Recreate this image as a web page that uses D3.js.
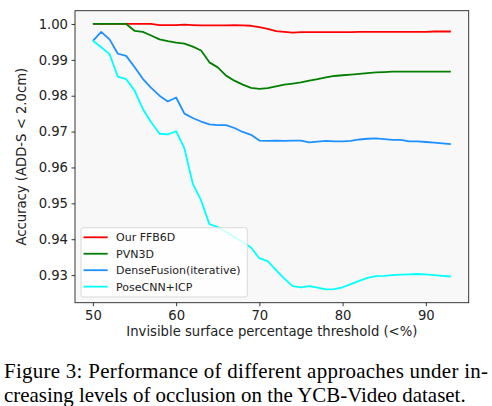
<!DOCTYPE html>
<html><head><meta charset="utf-8">
<script src="https://cdn.jsdelivr.net/npm/d3@7/dist/d3.min.js"></script>
<style>html,body{margin:0;padding:0;background:#fff;}svg{display:block;}</style>
</head><body>
<svg id="chart" width="492" height="406"></svg>
<script>
const thresholds = [50,51,52,53,54,55,56,57,58,59,60,61,62,63,64,65,66,67,68,69,70,71,72,73,74,75,76,77,78,79,80,81,82,83,84,85,86,87,88,89,90,91,92,93];
const ffb6d = [1.0000,1.0000,1.0000,1.0000,1.0000,1.0000,1.0000,1.0000,0.9997,0.9997,0.9997,0.9998,0.9997,0.9996,0.9996,0.9996,0.9996,0.9997,0.9996,0.9995,0.9991,0.9986,0.9980,0.9978,0.9976,0.9977,0.9977,0.9977,0.9977,0.9977,0.9977,0.9977,0.9978,0.9978,0.9978,0.9978,0.9978,0.9978,0.9978,0.9978,0.9978,0.9979,0.9979,0.9979];
const pvn3d = [1.0000,1.0000,1.0000,1.0000,1.0000,0.9981,0.9978,0.9968,0.9957,0.9952,0.9948,0.9945,0.9937,0.9926,0.9893,0.9879,0.9856,0.9842,0.9831,0.9822,0.9819,0.9821,0.9826,0.9831,0.9834,0.9837,0.9842,0.9846,0.9851,0.9855,0.9857,0.9859,0.9861,0.9863,0.9865,0.9866,0.9867,0.9867,0.9867,0.9867,0.9867,0.9867,0.9867,0.9867];
const densefusion = [0.9953,0.9978,0.9957,0.9917,0.9911,0.9880,0.9847,0.9822,0.9800,0.9784,0.9795,0.9750,0.9738,0.9728,0.9720,0.9718,0.9718,0.9710,0.9699,0.9691,0.9675,0.9674,0.9675,0.9674,0.9675,0.9675,0.9670,0.9672,0.9674,0.9673,0.9673,0.9674,0.9678,0.9680,0.9681,0.9679,0.9677,0.9677,0.9673,0.9673,0.9671,0.9669,0.9667,0.9665];
const posecnn = [0.9953,0.9935,0.9916,0.9853,0.9846,0.9815,0.9763,0.9726,0.9694,0.9692,0.9701,0.9653,0.9555,0.9508,0.9442,0.9434,0.9420,0.9406,0.9392,0.9377,0.9347,0.9339,0.9314,0.9290,0.9269,0.9266,0.9269,0.9265,0.9260,0.9261,0.9266,0.9275,0.9284,0.9292,0.9297,0.9298,0.9300,0.9301,0.9302,0.9303,0.9302,0.9300,0.9298,0.9296];
const seriesNames = ["Our FFB6D","PVN3D","DenseFusion(iterative)","PoseCNN+ICP"];
const seriesValues = [ffb6d, pvn3d, densefusion, posecnn];
const seriesColors = ["#ff0000","#008000","#1e90ff","#00ffff"];
const xTicks = [50,60,70,80,90];
const yTicks = [0.93,0.94,0.95,0.96,0.97,0.98,0.99,1.00];
const xLabel = "Invisible surface percentage threshold (<%)";
const yLabel = "Accuracy (ADD-S < 2.0cm)";
const captionLines = ["Figure 3:  Performance of different approaches under in-","creasing levels of occlusion on the YCB-Video dataset."];

const svg = d3.select("#chart");
const L = 75, R = 468.7, T = 10.7, B = 302.7;
const font = "'DejaVu Sans', sans-serif";
const tickSize = 13.2;

// domains with matplotlib-like 5% margins
const allY = seriesValues.flat();
const xmin = d3.min(thresholds), xmax = d3.max(thresholds);
const ymin = d3.min(allY), ymax = d3.max(allY);
const xm = (xmax - xmin) * 0.05, ym = (ymax - ymin) * 0.05;
const x = d3.scaleLinear().domain([xmin - xm, xmax + xm]).range([L, R]);
const y = d3.scaleLinear().domain([ymin - ym, ymax + ym]).range([B, T]);

svg.append("rect").attr("x", L).attr("y", T).attr("width", R - L).attr("height", B - T).attr("fill", "#f8f8f8");

svg.append("clipPath").attr("id", "clip").append("rect")
  .attr("x", L).attr("y", T).attr("width", R - L).attr("height", B - T);

const line = d3.line().x((d, i) => x(thresholds[i])).y(d => y(d));
const g = svg.append("g").attr("clip-path", "url(#clip)");
seriesValues.forEach((vals, k) => {
  g.append("path").datum(vals).attr("d", line).attr("fill", "none")
    .attr("stroke", seriesColors[k]).attr("stroke-width", 1.8)
    .attr("stroke-linejoin", "round").attr("stroke-linecap", "butt");
});

// axes
const xAxis = svg.append("g").attr("transform", `translate(0,${B})`)
  .call(d3.axisBottom(x).tickValues(xTicks).tickFormat(d3.format("d")).tickSize(3.5).tickPadding(4));
const yAxis = svg.append("g").attr("transform", `translate(${L},0)`)
  .call(d3.axisLeft(y).tickValues(yTicks).tickFormat(d3.format(".2f")).tickSize(3.5).tickPadding(3.5));
[xAxis, yAxis].forEach(a => {
  a.select(".domain").remove();
  a.selectAll(".tick line").attr("stroke", "#222").attr("stroke-width", 0.9);
  a.selectAll(".tick text").attr("font-family", font).attr("font-size", tickSize).attr("fill", "#222");
});
svg.append("rect").attr("x", L).attr("y", T).attr("width", R - L).attr("height", B - T)
  .attr("fill", "none").attr("stroke", "#222").attr("stroke-width", 0.9);

// axis labels
svg.append("text").attr("x", (L + R) / 2).attr("y", 336).attr("text-anchor", "middle")
  .attr("font-family", font).attr("font-size", tickSize).attr("fill", "#222").text(xLabel);
svg.append("text").attr("transform", `translate(26,${(T + B) / 2}) rotate(-90)`).attr("text-anchor", "middle")
  .attr("font-family", font).attr("font-size", tickSize).attr("fill", "#222").text(yLabel);

// legend
const lg = svg.append("g");
lg.append("rect").attr("x", 81).attr("y", 227.7).attr("width", 166.3).attr("height", 69.3)
  .attr("rx", 2.5).attr("fill", "#ffffff").attr("fill-opacity", 0.8).attr("stroke", "#d6d6d6").attr("stroke-width", 0.9);
seriesNames.forEach((name, k) => {
  const cy = 237.3 + k * 16.45;
  lg.append("line").attr("x1", 83.5).attr("x2", 107.7).attr("y1", cy).attr("y2", cy)
    .attr("stroke", seriesColors[k]).attr("stroke-width", 1.8);
  lg.append("text").attr("x", 116).attr("y", cy + 4).attr("font-family", font).attr("font-size", 11)
    .attr("fill", "#222").text(name);
});

// caption
const cap = svg.append("g").attr("font-family", "'Liberation Serif', 'Times New Roman', serif").attr("fill", "#000");
const t2 = cap.append("text").attr("x", 4).attr("y", 401.5).attr("font-size", 18).text(captionLines[1]);
const w2 = t2.node().getComputedTextLength();
const fs = 18 * 462 / w2;
t2.attr("font-size", fs);
cap.append("text").attr("x", 4).attr("y", 378).attr("font-size", fs)
  .attr("textLength", 484).attr("lengthAdjust", "spacing").text(captionLines[0]);
</script>
</body></html>
